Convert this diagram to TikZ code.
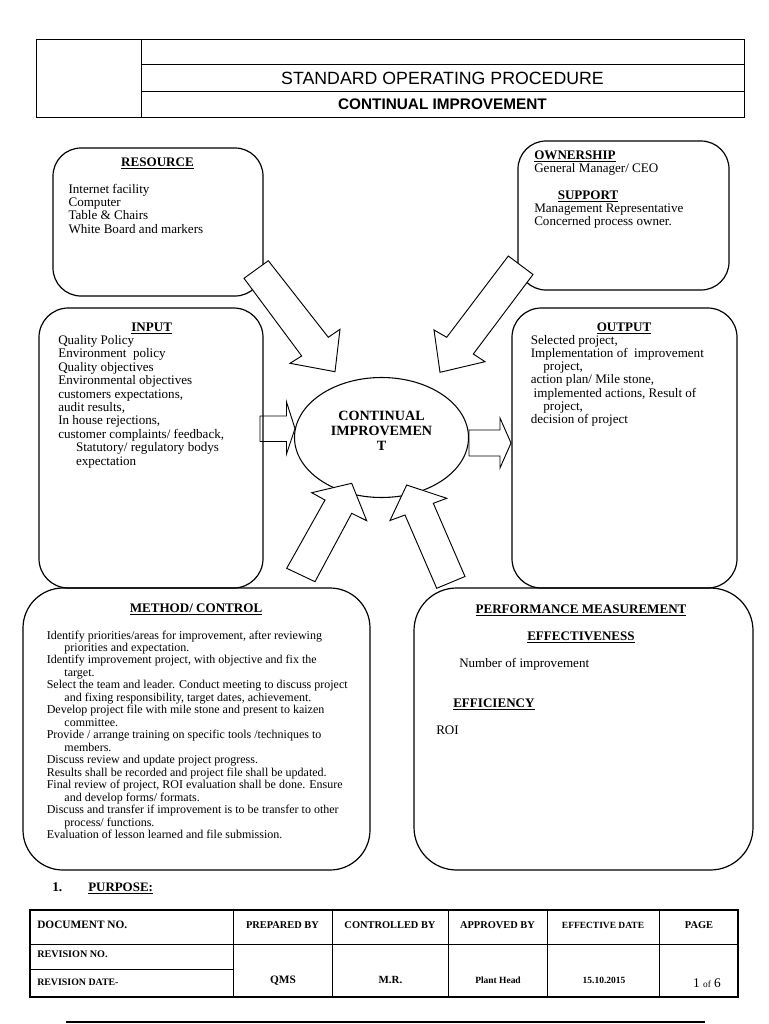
\documentclass[tikz,border=0pt]{standalone}
\usepackage{fontspec}
\setmainfont{Liberation Serif}
\newfontfamily\arialf{Liberation Sans}
\usetikzlibrary{shapes.geometric,fit}
\newcommand{\ind}{\hspace*{13.3pt}}
\begin{document}
\begin{tikzpicture}[x=0.75pt,y=-0.75pt,
  rbox/.style={draw, line width=0.9pt, inner sep=0pt, rectangle},
  blockarrow/.style={draw, fill=white, line width=0.7pt, line join=miter},
  openarrow/.style={draw, line width=0.7pt, line join=miter},
  body/.style={inner sep=0pt, anchor=base west, font=\fontsize{9.8}{10.1}\selectfont},
  ttl/.style={inner sep=0pt, anchor=base, font=\bfseries\fontsize{9.8}{10.1}\selectfont},
  ttlw/.style={inner sep=0pt, anchor=base west, font=\bfseries\fontsize{9.8}{10.1}\selectfont},
  tcell/.style={inner sep=0pt, anchor=base, font=\bfseries\fontsize{7.8}{9}\selectfont},
  tcellw/.style={inner sep=0pt, anchor=base west, font=\bfseries\fontsize{7.8}{9}\selectfont},
  tline/.style={line width=0.6pt},
  touter/.style={line width=1pt}
]
\useasboundingbox (0,0) rectangle (768,1024);

% ---------- header table ----------
\coordinate (h1) at (36,39);
\coordinate (h2) at (744,117);
\coordinate (hv1) at (141,39);
\coordinate (hv2) at (141,117);
\coordinate (hr1a) at (141,64);
\coordinate (hr1b) at (744,64);
\coordinate (hr2a) at (141,91);
\coordinate (hr2b) at (744,91);
\draw[tline] (h1) rectangle (h2);
\draw[tline] (hv1) -- (hv2);
\draw[tline] (hr1a) -- (hr1b);
\draw[tline] (hr2a) -- (hr2b);
\node[inner sep=0pt, anchor=base, font=\arialf\fontsize{13.3}{15}\selectfont] (sop) at (442.5,84.5) {STANDARD OPERATING PROCEDURE};
\node[inner sep=0pt, anchor=base, font=\arialf\bfseries\fontsize{11.5}{13}\selectfont] (cititle) at (442.5,109) {CONTINUAL IMPROVEMENT};

% ---------- boxes ----------
\node[rbox, rounded corners=21pt, fit={(53,148)(263,296)}] (resource) {};
\node[rbox, rounded corners=21pt, fit={(518,141)(729,290)}] (ownership) {};
\node[rbox, rounded corners=22pt, fit={(39,308)(263,588)}] (input) {};
\node[rbox, rounded corners=22pt, fit={(512,308)(737,588)}] (output) {};
\node[rbox, rounded corners=30pt, fit={(23,588)(370,870)}] (method) {};
\node[rbox, rounded corners=32pt, fit={(414,588)(753,870)}] (perf) {};

% ---------- centre ellipse ----------
\node[draw, ellipse, line width=0.8pt, minimum width=130.5pt, minimum height=90pt, inner sep=0pt] (cimp) at (381.5,437.5) {};

% ---------- block arrows ----------
% input -> centre
\draw[openarrow] (260,416) -- (286.5,416) -- (286.5,402) -- (295,428.5) -- (286.5,454) -- (286.5,441.5) -- (260,441.5) -- cycle;
% centre -> output
\draw[blockarrow] (469,430) -- (500,430) -- (500,418) -- (511,443) -- (500,468) -- (500,456) -- (469,456) -- cycle;
% resource -> centre
\draw[blockarrow] (244,278.3) -- (301.7,356) -- (290,363.3) -- (335,371.7) -- (340,329.3) -- (328.3,337.3) -- (268.3,260.7) -- cycle;
% ownership -> centre
\draw[blockarrow] (508.3,256) -- (446.7,337.3) -- (434,330) -- (440,372.3) -- (485,361.7) -- (473.3,354) -- (533,274.5) -- cycle;
% method -> centre
\draw[blockarrow] (286.7,568.3) -- (325,500) -- (311.7,492.7) -- (351.7,483.3) -- (366.7,520.7) -- (351.7,513.3) -- (315,581.7) -- cycle;
% performance -> centre
\draw[blockarrow] (436.7,588.3) -- (405,515) -- (390,520.5) -- (406.7,485) -- (446.7,498.3) -- (433.3,503.3) -- (465,576.5) -- cycle;

% ---------- centre text ----------
\node[inner sep=0pt, anchor=base] (citext) at (381.5,420) {\parbox[t]{100pt}{\centering\bfseries\fontsize{10.6}{11.25}\selectfont CONTINUAL\\IMPROVEMEN\\T}};

% ---------- resource ----------
\node[ttl] (restitle) at (157.5,166.5) {\underline{RESOURCE}};
\node[body] (restext) at (68.3,193) {\parbox[t]{180pt}{\fontsize{9.8}{10.1}\selectfont Internet facility\\Computer\\Table \& Chairs\\White Board and markers}};

% ---------- ownership / support ----------
\node[ttlw] (owntitle) at (534,159) {\underline{OWNERSHIP}};
\node[body] (owntext) at (534,172) {General Manager/ CEO};
\node[ttlw] (suptitle) at (557.5,199) {\underline{SUPPORT}};
\node[body] (suptext) at (534,212.5) {\parbox[t]{180pt}{\fontsize{9.8}{10.1}\selectfont Management Representative\\Concerned process owner.}};

% ---------- input ----------
\node[ttl] (intitle) at (151.7,331.5) {\underline{INPUT}};
\node[body] (intext) at (58,344.5) {\parbox[t]{200pt}{\fontsize{9.8}{10.05}\selectfont Quality Policy\\Environment\ \ policy\\Quality objectives\\Environmental objectives\\customers expectations,\\audit results,\\In house rejections,\\customer complaints/ feedback,\\\ind Statutory/ regulatory bodys\\\ind expectation}};

% ---------- output ----------
\node[ttl] (outtitle) at (624,331.5) {\underline{OUTPUT}};
\node[body] (outtext) at (530.5,344) {\parbox[t]{200pt}{\fontsize{9.8}{9.98}\selectfont Selected project,\\Implementation of\ \ improvement\\\hspace*{9.5pt}project,\\action plan/ Mile stone,\\\hspace*{2.2pt}implemented actions, Result of\\\hspace*{9.5pt}project,\\decision of project}};

% ---------- method / control ----------
\node[ttl] (methtitle) at (196,612) {\underline{METHOD/ CONTROL}};
\node[body] (methtext) at (46.5,639) {\parbox[t]{300pt}{\fontsize{9}{9.35}\selectfont
Identify priorities/areas for improvement, after reviewing\\
\ind priorities and expectation.\\
Identify improvement project, with objective and fix the\\
\ind target.\\
Select the team and leader. Conduct meeting to discuss project\\
\ind and fixing responsibility, target dates, achievement.\\
Develop project file with mile stone and present to kaizen\\
\ind committee.\\
Provide / arrange training on specific tools /techniques to\\
\ind members.\\
Discuss review and update project progress.\\
Results shall be recorded and project file shall be updated.\\
Final review of project, ROI evaluation shall be done. Ensure\\
\ind and develop forms/ formats.\\
Discuss and transfer if improvement is to be transfer to other\\
\ind process/ functions.\\
Evaluation of lesson learned and file submission.}};

% ---------- performance ----------
\node[ttl] (perftitle) at (581,613.5) {\underline{PERFORMANCE MEASUREMENT}};
\node[ttl] (efftitle) at (581,640) {\underline{EFFECTIVENESS}};
\node[body] (efftext) at (459,667) {Number of improvement};
\node[ttlw] (efcytitle) at (453,707) {\underline{EFFICIENCY}};
\node[body] (roi) at (436,734) {ROI};

% ---------- purpose ----------
\node[inner sep=0pt, anchor=base west, font=\bfseries\fontsize{10}{12}\selectfont] (pnum) at (52,891) {1.};
\node[inner sep=0pt, anchor=base west, font=\bfseries\fontsize{9.7}{12}\selectfont] (purpose) at (88,891) {\underline{PURPOSE:}};

% ---------- footer table ----------
\draw[touter] (30,910) rectangle (738,997);
\draw[tline] (30,944) -- (738,944);
\draw[tline] (30,969) -- (233,969);
\foreach \cx in {233,332,448,547,659} { \draw[tline] (\cx,910) -- (\cx,997); }
\node[tcellw, font=\bfseries\fontsize{8.5}{9}\selectfont] (docno) at (37,928) {DOCUMENT NO.};
\node[tcell] (prep) at (282.5,928) {PREPARED BY};
\node[tcell] (ctrl) at (390,928) {CONTROLLED BY};
\node[tcell] (appr) at (497.5,928) {APPROVED BY};
\node[tcell, font=\bfseries\fontsize{7.1}{9}\selectfont] (effd) at (603,928) {EFFECTIVE DATE};
\node[tcell] (page) at (699,928) {PAGE};
\node[tcellw, font=\bfseries\fontsize{7.6}{9}\selectfont] (revno) at (37,957) {REVISION NO.};
\node[tcellw, font=\bfseries\fontsize{7.4}{9}\selectfont] (revdate) at (37,985) {REVISION DATE-};
\node[tcell, font=\bfseries\fontsize{8.5}{9}\selectfont] (qms) at (283,983) {QMS};
\node[tcell, font=\bfseries\fontsize{8.2}{9}\selectfont] (mr) at (390.5,983) {M.R.};
\node[tcell, font=\bfseries\fontsize{7.1}{9}\selectfont] (ph) at (498,983) {Plant Head};
\node[tcell, font=\bfseries\fontsize{7.1}{9}\selectfont] (date) at (604,983) {15.10.2015};
\node[inner sep=0pt, anchor=base] (pg) at (707,987) {{\fontsize{10}{12}\selectfont 1} {\fontsize{7}{8}\selectfont of} {\fontsize{10}{12}\selectfont 6}};

% ---------- bottom rule ----------
\coordinate (bl) at (66,1022);
\coordinate (br) at (705,1022);
\draw[line width=1.5pt] (bl) -- (br);
\end{tikzpicture}
\end{document}
